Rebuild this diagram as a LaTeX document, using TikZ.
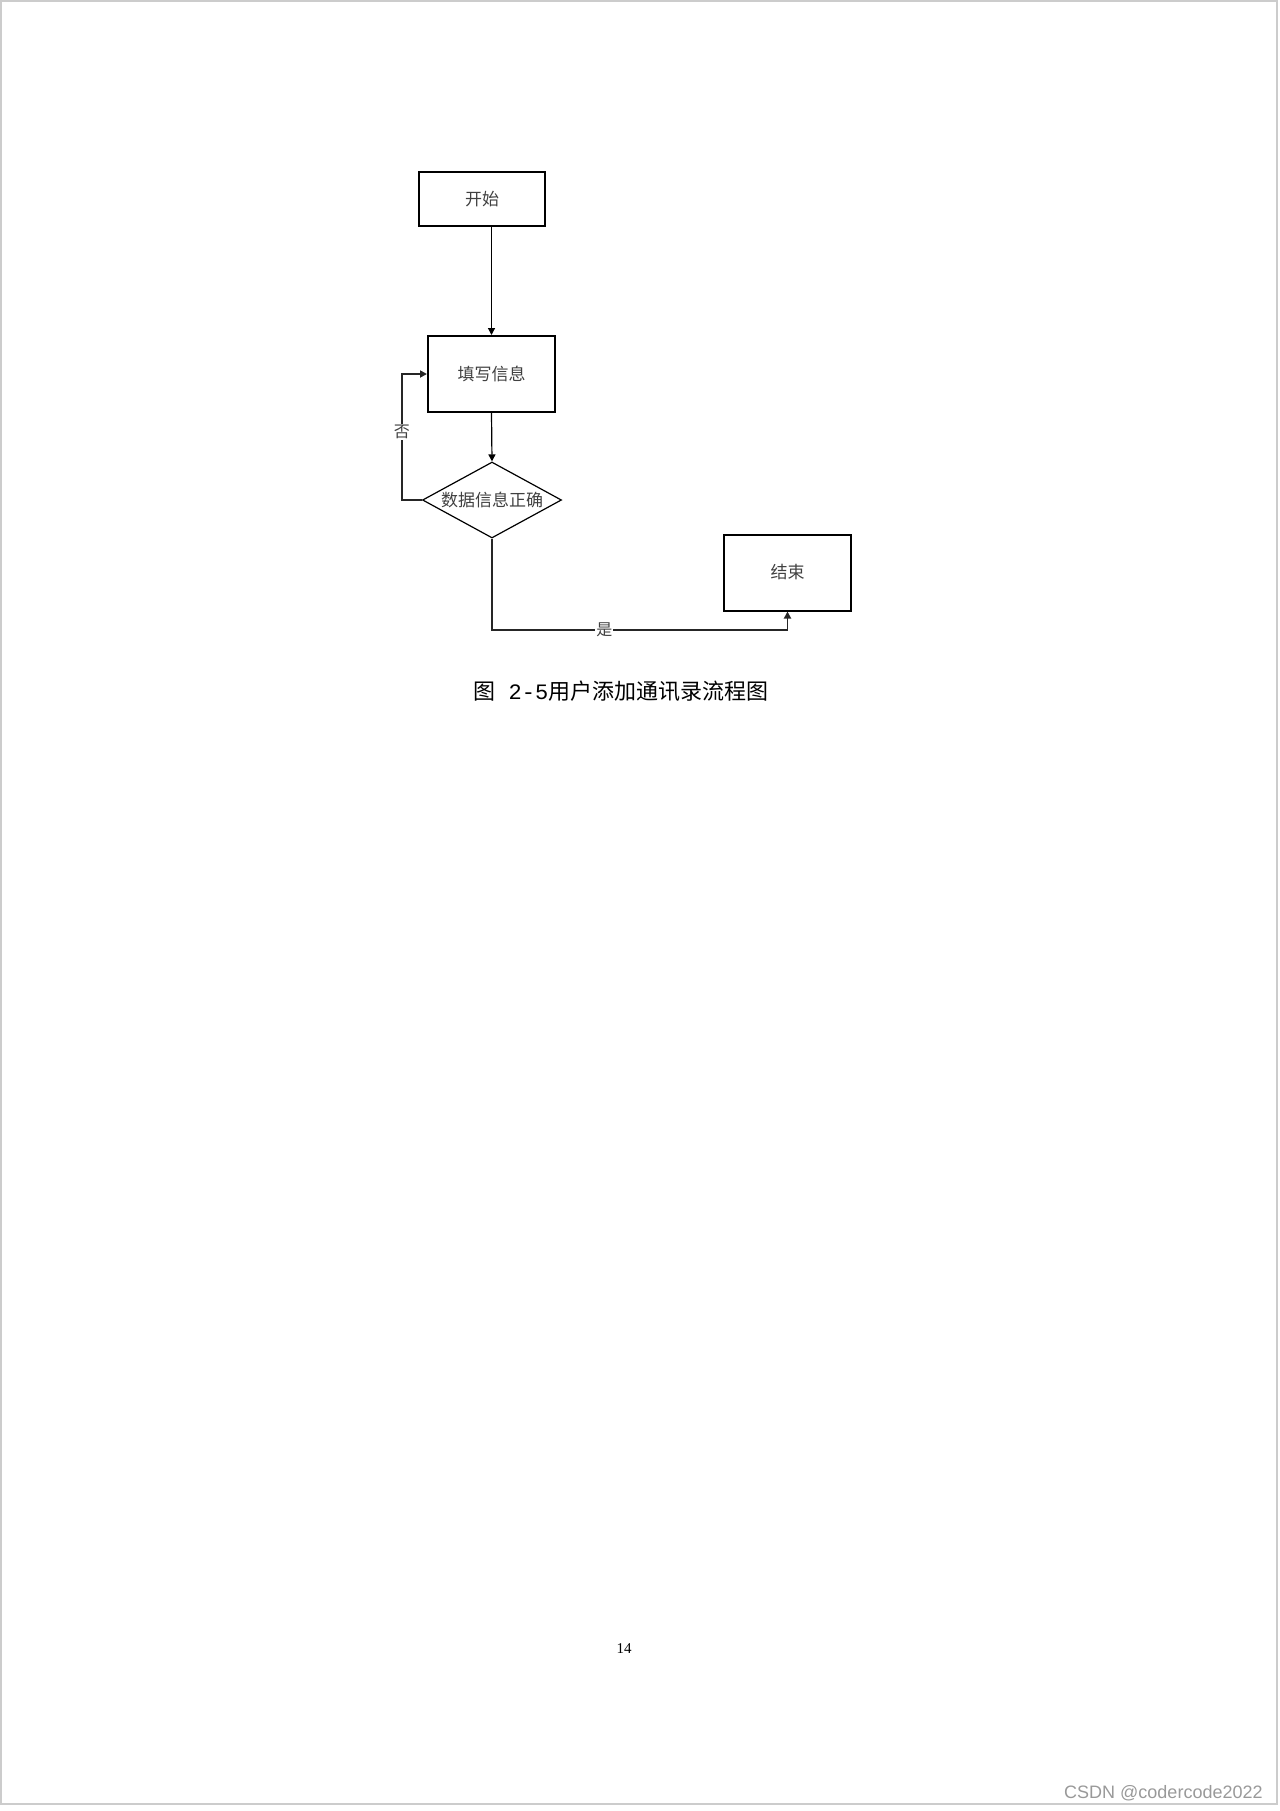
\documentclass[tikz,border=0pt]{standalone}
\usepackage{fontspec}
\usepackage{tikz}
\usetikzlibrary{arrows.meta}
\usetikzlibrary{shapes.geometric}
\newfontfamily\cjk{Noto Sans CJK SC}
\newfontfamily\capmono{Liberation Mono}
\newfontfamily\pagenofont{Liberation Serif}
\newfontfamily\markfont{Liberation Sans}
\tikzset{
  procbox/.style={
    draw=black, line width=1pt, text=black!75,
    minimum width=63.5pt, minimum height=38pt, inner sep=0pt,
    font=\cjk\fontsize{8.5}{10}\selectfont
  },
  decision/.style={
    diamond, draw=black, line width=0.6pt, text=black!75, aspect=1.83,
    minimum width=69.5pt, minimum height=38pt, inner sep=0pt,
    font=\cjk\fontsize{8.5}{10}\selectfont
  },
  flowline/.style={draw=black, line width=0.6pt},
  loopline/.style={draw=black!85, line width=0.9pt},
  pageedge/.style={draw=black!20, line width=0.8pt}
}
\begin{document}
\begin{tikzpicture}[x=0.5pt,y=-0.5pt]
  \useasboundingbox (0,0) rectangle (1280,1811);
  \draw[pageedge] (1,1) rectangle (1277,1804);
  \begin{scope}[every node/.style={procbox}]
    \node (start) at (482,199) [minimum width=63pt, minimum height=27pt] {开始};
    \node (input) at (491.5,374) {填写信息};
    \node (end) at (787.5,572.5) {结束};
  \end{scope}
  \node[decision] (check) at (492,500) {数据信息正确};
  \begin{scope}[>={Triangle[length=3.5pt,width=3.5pt]},every node/.style={fill=white,inner sep=0.5pt,text=black!75,font=\cjk\fontsize{8}{9}\selectfont}]
    \draw [->,flowline] (start.south -| input) -- (input.north);
    \draw [->,flowline] (input.south) -- (check.north);
    \draw [->,loopline] (check.west) -- ++(-20,0) |- (input.west) node[pos=0.27] {否};
    \draw [->,loopline] (check.south) -- ++(0,91) -| (end.south) node[pos=0.19] {是};
  \end{scope}
  \node (caption) at (473,691) [anchor=west,inner sep=0pt,font=\cjk\fontsize{11}{13}\selectfont] {图{\capmono{} 2-5}用户添加通讯录流程图};
  \node (pageno) at (624,1649) [inner sep=0pt,font=\pagenofont\fontsize{7.5}{9}\selectfont] {14};
  \node (mark) at (1263,1793) [anchor=east,inner sep=0pt,text=black!40,font=\markfont\fontsize{9}{11}\selectfont] {CSDN @codercode2022};
\end{tikzpicture}
\end{document}
